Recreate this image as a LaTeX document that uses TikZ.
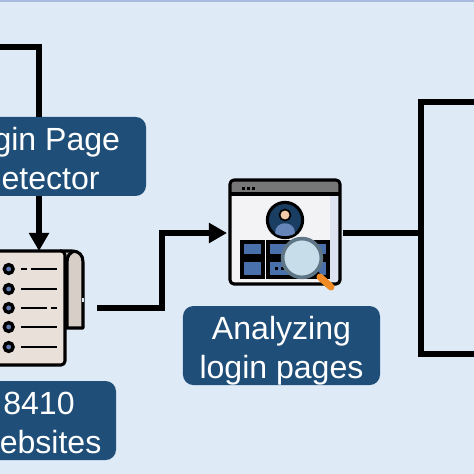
\documentclass[tikz,border=0pt]{standalone}
\usepackage{fontspec}
\setmainfont{Liberation Sans}
\usetikzlibrary{positioning, arrows.meta}
\definecolor{pagebg}{HTML}{DEEAF6}
\definecolor{topband}{HTML}{A9BCDD}
\definecolor{boxblue}{HTML}{1F4E79}
\definecolor{paper}{HTML}{E9E0DA}
\definecolor{scrollc}{HTML}{D8CEC8}
\definecolor{bulletc}{HTML}{5F7AB0}
\definecolor{btnblue}{HTML}{4A70AC}
\definecolor{glass}{HTML}{C8DDEA}
\definecolor{ringc}{HTML}{5F7686}
\definecolor{winbody}{HTML}{F3F3F6}
\definecolor{winedge}{HTML}{DDE3F0}
\definecolor{winbar}{HTML}{777777}
\definecolor{skin}{HTML}{EFC9A8}
\definecolor{handlec}{HTML}{F08A24}
\newcommand{\lup}{\rule{0pt}{23.8pt}}
\newcommand{\ldn}{\rule[-4.8pt]{0pt}{4.8pt}}

\begin{document}
\begin{tikzpicture}[
  x=0.025cm, y=-0.025cm,
  % ---- Style definitions ----
  lblbox/.style={
    rectangle, rounded corners=2.6mm, fill=boxblue, text=white,
    minimum height=1.975cm, align=center, inner sep=0pt, outer sep=0pt,
    font=\fontsize{22.8}{27.5}\selectfont
  },
  icon/.style={
    rectangle, inner sep=0pt, outer sep=0pt
  },
  wire/.style={
    line width=4.6pt, color=black, line join=miter
  },
  arr/.style={
    wire, -{Triangle[length=0.45cm, width=0.48cm]}
  },
  outline/.style={
    draw=black, line width=2.2pt, line join=round
  },
  txtline/.style={
    draw=black, line width=1.9pt
  },
  bullet/.style={
    circle, fill=bulletc, draw=black, line width=2.4pt,
    minimum size=0.22cm, inner sep=0pt
  },
  btn/.style={
    draw=black, line width=2.2pt, fill=btnblue
  },
]

\useasboundingbox (0,0) rectangle (474,474);
\clip (0,0) rectangle (474,474);
\fill[pagebg] (0,0) rectangle (474,474);
\fill[topband] (0,0) rectangle (474,2);

% ---- Nodes ----
\node[icon, minimum width=2.2cm, minimum height=2.85cm] (doc) at (39,308) {};
\node[lblbox, minimum width=5.35cm, above=1.375cm of doc] (login) {\lup Login Page\\Detector\ldn};
\node[lblbox, minimum width=3.85cm, below=0.4cm of doc] (sites) {\lup 8410\\websites\ldn};
\node[icon, minimum width=2.75cm, minimum height=2.6cm] (win) at (285,233) {};
\node[lblbox, minimum width=4.925cm, below=0.525cm of win, xshift=-0.0875cm] (pages) {\lup Analyzing\\login pages\ldn};

\coordinate (start) at (0,47);
\coordinate (corner) at (login.north |- start);
\coordinate (split) at (421,233);
\coordinate (up) at (474,102);
\coordinate (down) at (474,354);

% ---- Connectors ----
\draw[wire] (start) -- (corner) -- (login.north);
\draw[arr] (login.south) -- (doc.north);
\draw[arr, shorten <=0.35cm, shorten >=0.075cm] (doc.east) -- ++(79,0) |- (win.west);
\draw[wire, shorten <=0.08cm] (win.east) -- (split);
\draw[wire] (up) -- (up -| split) -- (down -| split) -- (down);

% ---- Document icon ----
\draw[outline, fill=scrollc] (60,251) -- (72,251)
  .. controls (79,251) and (83,255) .. (83,262) -- (83,328) -- (65,328);
\draw[outline] (67,328) -- (67,262) .. controls (67,256) and (70,252) .. (75,251);
\draw[pagebg, line width=1.6pt] (83,298) -- (83,302);
\draw[outline, fill=paper, rounded corners=1mm] (-12,251) -- (65,251) -- (65,365) -- (-12,365) -- cycle;
\foreach \yy in {269,289,308,327,347}
  \node[bullet] (dot\yy) at (8.7,\yy) {};
\draw[txtline] (21,269) -- (27,269) (31,269) -- (57,269);
\draw[txtline] (21,289) -- (57,289);
\draw[txtline] (21,308) -- (47,308) (51,308) -- (57,308);
\draw[txtline] (21,327) -- (57,327);
\draw[txtline] (21,347) -- (57,347);

% ---- Browser icon ----
\fill[winbar, rounded corners=1mm] (230,180) rectangle (340,196);
\fill[winbody] (231,194) rectangle (339,283);
\fill[winedge] (330,194) rectangle (339,283);
\draw[outline] (230,194) -- (340,194);
\draw[outline, rounded corners=1mm] (230,180) rectangle (340,284);
\foreach \xx in {241.7,246.9,252.3}
  \fill[black] (\xx,187) rectangle ++(3,3);

% ---- Avatar ----
\node[circle, fill=boxblue!80!black, draw=black, line width=2.2pt,
      minimum size=0.88cm, inner sep=0pt] (avatar) at (285,220) {};
\fill[btnblue!85!white] (275,233) .. controls (275,220) and (295,220) .. (295,233)
  .. controls (292,237) and (278,237) .. (275,233);
\draw[black, line width=1.2pt, fill=skin] (285,215) circle (5.5);

% ---- Field rows ----
\draw[btn] (242,242) rectangle (263,256);
\draw[btn] (268,242) rectangle (328,256);
\draw[btn] (242,260) rectangle (263,277);
\draw[btn] (268,260) rectangle (328,277);
\foreach \xx in {275,281,287}
  \fill[black] (\xx,267) rectangle ++(3,3);

% ---- Magnifier ----
\draw[black, line width=3.6pt, line cap=round] (316,273) -- (320,277);
\draw[handlec, line width=5pt, line cap=round] (320,277) -- (331,287);
\node[circle, fill=glass, draw=ringc, line width=2.6pt,
      minimum size=0.97cm, inner sep=0pt] (lens) at (302,258) {};

\end{tikzpicture}
\end{document}
